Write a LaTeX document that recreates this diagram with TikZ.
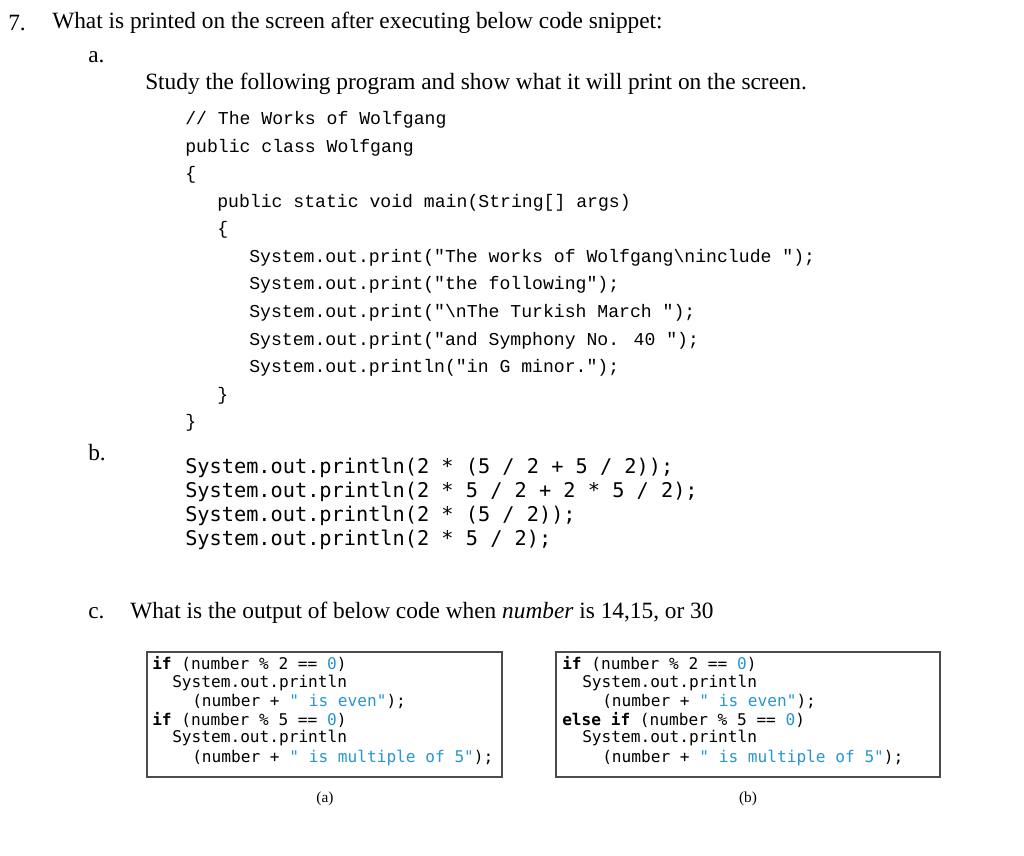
\documentclass[tikz,border=0pt]{standalone}
\usepackage{fontspec}
\setmainfont{Liberation Serif}
\newfontfamily\cwa{Liberation Mono}
\newfontfamily\cwb{DejaVu Sans Mono}
\definecolor{strblue}{RGB}{40,150,210}
\begin{document}
\begin{tikzpicture}[x=0.75pt,y=-0.75pt,
  tx/.style={anchor=west,inner sep=0pt},
  ser/.style={tx,font=\fontsize{17.5}{20}\selectfont},
  ca/.style={tx,font=\cwa\fontsize{13.6}{16}\selectfont},
  cb/.style={tx,font=\cwb\fontsize{15.2}{17}\selectfont},
  cc/.style={tx,font=\cwb\fontsize{12.1}{14}\selectfont},
  boxc/.style={draw=black!70,line width=0.9pt}]
\useasboundingbox[fill=white] (0,0) rectangle (1024,856);
\newcommand\st[1]{\textcolor{strblue}{#1}}
\node[ser] (n7) at (8,23) {7.};
\node[ser] (q7) at (52,23) {What is printed on the screen after executing below code snippet:};
\node[ser] (la) at (88,57) {a.};
\node[ser] (study) at (145,84) {Study the following program and show what it will print on the screen.};
\node[ca] (a1) at (185,120) {// The Works of Wolfgang};
\node[ca] (a2) at (185,148) {public class Wolfgang};
\node[ca] (a3) at (185,175) {\{};
\node[ca] (a4) at (217,203) {public static void main(String[] args)};
\node[ca] (a5) at (217,230) {\{};
\node[ca] (a6) at (249,258) {System.out.print("The works of Wolfgang\textbackslash ninclude ");};
\node[ca] (a7) at (249,285) {System.out.print("the following");};
\node[ca] (a8) at (249,313) {System.out.print("\textbackslash nThe Turkish March ");};
\node[ca] (a9) at (249,341) {System.out.print("and Symphony No. 40 ");};
\node[ca] (a10) at (249,368) {System.out.println("in G minor.");};
\node[ca] (a11) at (217,396) {\}};
\node[ca] (a12) at (185,423) {\}};
\node[ser] (lb) at (88,453) {b.};
\node[cb] (b1) at (185,468) {System.out.println(2 * (5 / 2 + 5 / 2));};
\node[cb] (b2) at (185,492) {System.out.println(2 * 5 / 2 + 2 * 5 / 2);};
\node[cb] (b3) at (185,516) {System.out.println(2 * (5 / 2));};
\node[cb] (b4) at (185,540) {System.out.println(2 * 5 / 2);};
\node[ser] (lc) at (88,613) {c.};
\node[ser] (qc) at (130,613) {What is the output of below code when \textit{number} is 14,15, or 30};
\draw[boxc] (147,652) rectangle (502,777);
\draw[boxc] (556,652) rectangle (940,777);
\node[cc] (c1) at (152,664) {\textbf{if} (number \% 2 == \st{0})};
\node[cc] (c2) at (172,683) {System.out.println};
\node[cc] (c3) at (192,701) {(number + \st{" is even"});};
\node[cc] (c4) at (152,720) {\textbf{if} (number \% 5 == \st{0})};
\node[cc] (c5) at (172,738) {System.out.println};
\node[cc] (c6) at (192,758) {(number + \st{" is multiple of 5"});};
\node[cc] (d1) at (562,664) {\textbf{if} (number \% 2 == \st{0})};
\node[cc] (d2) at (582,683) {System.out.println};
\node[cc] (d3) at (602,701) {(number + \st{" is even"});};
\node[cc] (d4) at (562,720) {\textbf{else if} (number \% 5 == \st{0})};
\node[cc] (d5) at (582,738) {System.out.println};
\node[cc] (d6) at (602,758) {(number + \st{" is multiple of 5"});};
\node[font=\fontsize{11.5}{13}\selectfont] (capa) at (325,799) {(a)};
\node[font=\fontsize{11.5}{13}\selectfont] (capb) at (748,799) {(b)};
\end{tikzpicture}
\end{document}
